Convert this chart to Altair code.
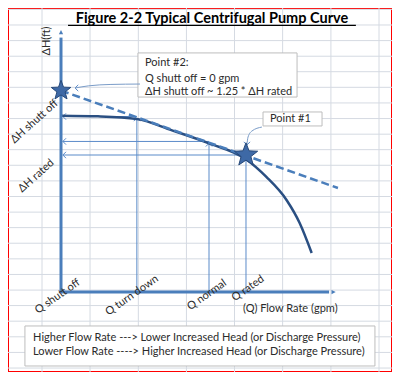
import math
import altair as alt
import pandas as pd

# ---------------- values ----------------
# x: flow Q (gpm, Q rated = 100), y: head ΔH (ft, ΔH rated = 100)
curve_q = [0, 20, 41, 60, 80, 100, 111, 122, 129, 135.5]
curve_h = [128.7, 128.2, 126.3, 118.0, 108.5, 96.9, 84.0, 67.0, 50.4, 28.5]

dash_q = [0, 149.7]
dash_h = [147.0, 75.9]

star_q = [0, 100]
star_h = [147.0, 100.0]
star_size = [420, 600]

flow_names = ["Q shutt off", "Q turn down", "Q normal", "Q rated"]
flow_q = [0, 41, 80, 100]
flow_top = [0, 127.0, 108.5, 97.0]

guide_h = [128.1, 109.9, 100.0]
guide_from_q = [41, 80, 100]

axis_q_end = 148.5
axis_h_end = 191.2

# spreadsheet grid behind the drawing
grid_q = [-10.27, 15.7, 41.8, 67.8, 93.8, 119.8, 145.9, 171.9]
grid_h = [206.3, 194.9, 183.5, 172.1, 160.8, 149.4, 138.0, 126.6, 115.2, 103.9,
          92.5, 81.1, 69.7, 58.3, 47.0, 35.6, 24.2, 12.8, 1.4, -9.9, -21.3,
          -32.7, -44.1, -55.5]

title = "Figure 2-2 Typical Centrifugal Pump Curve"
point2_lines = ["Point #2:", "Q shutt off = 0 gpm", "ΔH shutt off ~ 1.25 * ΔH rated"]
note_lines = ["Higher Flow  Rate ---> Lower  Increased  Head (or Discharge Pressure)",
              "Lower Flow Rate ----> Higher Increased  Head  (or Discharge Pressure)"]

# ---------------- scales ----------------
XS = alt.Scale(domain=[-28.65, 178.92], nice=False, zero=False)
YS = alt.Scale(domain=[-58.39, 207.30], nice=False, zero=False)


def X(f="q"):
    return alt.X(f"{f}:Q", scale=XS, axis=None)


def Y(f="h"):
    return alt.Y(f"{f}:Q", scale=YS, axis=None)


GRID = "#d5dae2"
BLUE = "#4a7ebb"
THIN = "#5b8bc9"
NAVY = "#2a4f82"
TXT = "#2b2b2b"
FONT = "Lato"
FS = 11

layers = []

# grid
layers.append(alt.Chart(pd.DataFrame({"q": grid_q})).mark_rule(color=GRID, strokeWidth=1).encode(x=X()))
layers.append(alt.Chart(pd.DataFrame({"h": grid_h})).mark_rule(color=GRID, strokeWidth=1).encode(y=Y()))

# text boxes
boxes = pd.DataFrame({
    "q": [41.6, 109.2, -19.5],
    "q2": [127.6, 141.1, 169.7],
    "h": [174.5, 131.4, -24.8],
    "h2": [142.3, 121.2, -54.0],
})
layers.append(alt.Chart(boxes).mark_rect(fill="white", stroke="#bdbdbd", strokeWidth=1).encode(
    x=X(), x2="q2:Q", y=Y(), y2="h2:Q"))

# thin guide lines
seg = pd.DataFrame({
    "q": flow_q[1:] + guide_from_q,
    "h": [0, 0, 0] + guide_h,
    "q2": flow_q[1:] + [1, 1, 1],
    "h2": flow_top[1:] + guide_h,
})
layers.append(alt.Chart(seg).mark_rule(color=THIN, strokeWidth=1).encode(
    x=X(), y=Y(), x2="q2:Q", y2="h2:Q"))

LEFT = "M1,-1L0,0L1,1"
UP = "M-1,1L0,0L1,1"
DOWN = "M-1,-1L0,0L1,-1"
heads = pd.DataFrame({
    "q": [41, 80, 1, 1, 1, 7.6, 100.5],
    "h": [127.0, 108.5, 128.1, 109.9, 100.0, 148.9, 107.3],
    "shape": [UP, UP, LEFT, LEFT, LEFT, LEFT, DOWN],
})
layers.append(alt.Chart(heads).mark_point(filled=False, strokeWidth=1, size=40, opacity=1, color=THIN).encode(
    x=X(), y=Y(), shape=alt.Shape("shape:N", scale=None)))

# callout connectors
call = pd.DataFrame({
    "q": [42.7, 27, 15, 7.6, 108.6, 103.2, 101.1, 100.5],
    "h": [151.8, 151.5, 150.5, 148.9, 120.4, 117.5, 113.1, 107.3],
    "id": [2, 2, 2, 2, 1, 1, 1, 1],
    "o": [0, 1, 2, 3, 0, 1, 2, 3],
})
layers.append(alt.Chart(call).mark_line(color="#7a9cc8", strokeWidth=1, interpolate="monotone").encode(
    x=X(), y=Y(), detail="id:N", order="o:Q"))

# pump curve
layers.append(alt.Chart(pd.DataFrame({"q": curve_q, "h": curve_h})).mark_line(
    color=NAVY, strokeWidth=2.5, interpolate="monotone").encode(x=X(), y=Y()))

# dashed line
layers.append(alt.Chart(pd.DataFrame({"q": dash_q, "h": dash_h})).mark_line(
    color=BLUE, strokeWidth=2.5, strokeDash=[8, 4]).encode(x=X(), y=Y()))

# axes
axes = pd.DataFrame({"q": [0, 0], "h": [0, 0], "q2": [0, axis_q_end - 3.6], "h2": [axis_h_end - 5.5, 0]})
layers.append(alt.Chart(axes).mark_rule(color=BLUE, strokeWidth=3).encode(
    x=X(), y=Y(), x2="q2:Q", y2="h2:Q"))
tri = pd.DataFrame({"q": [axis_q_end, 0], "h": [0, axis_h_end],
                    "shape": ["M0,0L-2,-1L-2,1Z", "M0,0L-1,2L1,2Z"]})
layers.append(alt.Chart(tri).mark_point(filled=True, size=18, opacity=1, color=BLUE, strokeWidth=0).encode(
    x=X(), y=Y(), shape=alt.Shape("shape:N", scale=None)))

# stars
pts = []
for k in range(10):
    a = math.radians(-90 + 36 * k)
    r = 1 if k % 2 == 0 else 0.42
    pts.append(f"{r * math.cos(a):.3f},{r * math.sin(a):.3f}")
STAR = "M" + "L".join(pts) + "Z"
layers.append(alt.Chart(pd.DataFrame({"q": star_q, "h": star_h, "s": star_size})).mark_point(
    shape=STAR, filled=True, fill="#3e69a6", stroke="#284a7a", strokeWidth=1, opacity=1).encode(
    x=X(), y=Y(), size=alt.Size("s:Q", scale=None)))

# title
layers.append(alt.Chart(pd.DataFrame({"q": [81.6], "h": [196.4], "t": [title]})).mark_text(
    font=FONT, fontSize=14.5, fontWeight="bold", color="black", baseline="alphabetic").encode(
    x=X(), y=Y(), text="t:N"))
layers.append(alt.Chart(pd.DataFrame({"q": [3.8], "q2": [159.4], "h": [194.6]})).mark_rule(
    color="black", strokeWidth=1.3).encode(x=X(), x2="q2:Q", y=Y()))

# left-aligned texts
lt = pd.DataFrame({
    "q": [45.4, 45.4, 45.4, 113.0, 98.4, -15.1, -15.1],
    "h": [167.2, 155.5, 146.0, 126.3, -12.4, -33.6, -43.8],
    "t": point2_lines + ["Point #1", "(Q) Flow Rate (gpm)"] + note_lines,
})
layers.append(alt.Chart(lt).mark_text(font=FONT, fontSize=FS, color=TXT, align="left", baseline="middle").encode(
    x=X(), y=Y(), text="t:N"))

# ΔH(ft) vertical
layers.append(alt.Chart(pd.DataFrame({"q": [-7.6], "h": [183.2], "t": ["ΔH(ft)"]})).mark_text(
    font=FONT, fontSize=FS, color=TXT, angle=270, baseline="middle").encode(x=X(), y=Y(), text="t:N"))

# ΔH labels
layers.append(alt.Chart(pd.DataFrame({"q": [-14.3, -13.3], "h": [124.3, 84.7],
                                      "t": ["ΔH shutt off", "ΔH rated"]})).mark_text(
    font=FONT, fontSize=FS, color=TXT, angle=318, baseline="middle").encode(x=X(), y=Y(), text="t:N"))

# Q labels
layers.append(alt.Chart(pd.DataFrame({"q": [-1.8, 38.4, 78.9, 101.1], "h": [-3.3, -2.6, -2.2, 2.5],
                                      "t": flow_names})).mark_text(
    font=FONT, fontSize=FS, color=TXT, angle=325, baseline="middle").encode(x=X(), y=Y(), text="t:N"))

chart = alt.layer(*layers).properties(
    width=384, height=364, padding=0, autosize="none", background="white"
).configure_view(stroke="#ff0000", strokeWidth=2)

chart.save("out.html", embed_options={"renderer": "svg", "actions": False})
